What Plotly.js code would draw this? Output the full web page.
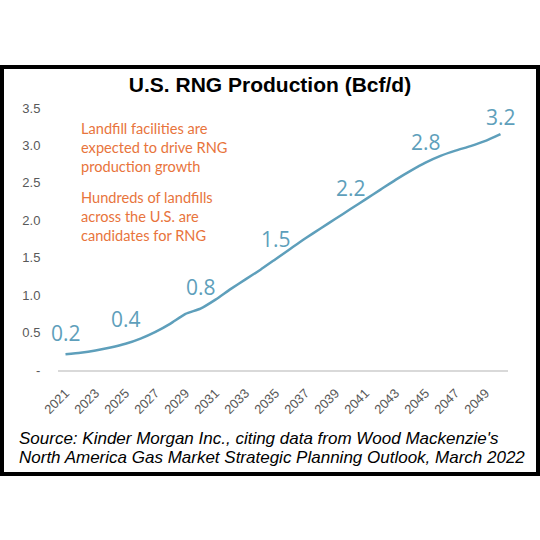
<!DOCTYPE html>
<html>
<head>
<meta charset="utf-8">
<script src="https://cdn.plot.ly/plotly-3.0.1.min.js"></script>
<style>
  html, body { margin: 0; padding: 0; background: #fff; }
  #wrap { position: relative; width: 540px; height: 540px; }
  #chart { position: absolute; left: 0; top: 0; width: 540px; height: 540px; }
  #frame { position: absolute; left: 0; top: 65px; width: 540px; height: 411px;
           border: 4px solid #000; box-sizing: border-box; pointer-events: none; }
</style>
</head>
<body>
<div id="wrap">
  <div id="chart"></div>
  <div id="frame"></div>
</div>
<script>
// Data
const years = [2021,2022,2023,2024,2025,2026,2027,2028,2029,2030,
               2031,2032,2033,2034,2035,2036,2037,2038,2039,2040,
               2041,2042,2043,2044,2045,2046,2047,2048,2049,2050];
const production = [0.21,0.23,0.26,0.30,0.35,0.42,0.51,0.62,0.75,0.82,
                    0.94,1.08,1.21,1.34,1.48,1.62,1.76,1.89,2.02,2.15,
                    2.28,2.41,2.54,2.66,2.77,2.86,2.93,2.99,3.06,3.15];
const labelYears = [2021,2025,2030,2035,2040,2045,2050];
const labelTexts = ["0.2","0.4","0.8","1.5","2.2","2.8","3.2"];
const xTickVals = [2021,2023,2025,2027,2029,2031,2033,2035,2037,2039,2041,2043,2045,2047,2049];
const yTickVals = [0,0.5,1.0,1.5,2.0,2.5,3.0,3.5];
const yTickText = ["-","0.5","1.0","1.5","2.0","2.5","3.0","3.5"];
const titleText = "U.S. RNG Production (Bcf/d)";
const noteA = ["Landfill facilities are","expected to drive RNG","production growth"];
const noteB = ["Hundreds of landfills","across the U.S. are","candidates for RNG"];
const sourceLines = ["Source: Kinder Morgan Inc., citing data from Wood Mackenzie's",
                     "North America Gas Market Strategic Planning Outlook, March 2022"];

const BLUE = "#5e9fbb";
const ORANGE = "#e8743c";
const SANS = "Open Sans, Noto Sans, sans-serif";
const NOTE = "Lato, Open Sans, sans-serif";
const ARIAL = "Liberation Sans, Arial, sans-serif";

// plot area in pixels: x 58..508, y 108..370
const L = 58, R = 508, T = 108, B = 370;
const px = x => (x - L) / (R - L);
const py = y => (B - y) / (B - T);

const labelShift = [5, 9, 6, 4, 5, 5, 1];
const annotations = labelYears.map((yr, i) => ({
  x: yr, y: production[years.indexOf(yr)], xref: "x", yref: "y",
  text: labelTexts[i], showarrow: false, yanchor: "bottom", yshift: labelShift[i],
  font: {family: SANS, size: 21, color: BLUE}
}));

annotations.push({
  xref: "paper", yref: "paper", x: px(79), y: py(118), xanchor: "left", yanchor: "top",
  align: "left", showarrow: false, text: noteA.join("<br>"),
  font: {family: NOTE, size: 14.6, color: ORANGE}
});
annotations.push({
  xref: "paper", yref: "paper", x: px(79), y: py(187), xanchor: "left", yanchor: "top",
  align: "left", showarrow: false, text: noteB.join("<br>"),
  font: {family: NOTE, size: 14.6, color: ORANGE}
});
sourceLines.forEach((s, i) => annotations.push({
  xref: "paper", yref: "paper", x: px(17), y: py(438 + 19 * i), xanchor: "left", yanchor: "middle",
  align: "left", showarrow: false, text: "<i>" + s + "</i>",
  font: {family: ARIAL, size: 17, color: "#000"}
}));

const trace = {
  x: years, y: production, type: "scatter", mode: "lines",
  line: {color: BLUE, width: 2.5, shape: "spline", smoothing: 0.5},
  hoverinfo: "skip"
};

const layout = {
  width: 540, height: 540,
  margin: {l: L, r: 540 - R, t: T, b: 540 - B, pad: 0},
  paper_bgcolor: "#fff", plot_bgcolor: "rgba(0,0,0,0)",
  showlegend: false,
  title: {text: "<b>" + titleText + "</b>", xref: "container", x: 0.5, xanchor: "center",
          yref: "container", y: 1 - 85/540, yanchor: "middle",
          font: {family: ARIAL, size: 21, color: "#000"}},
  xaxis: {
    type: "linear", range: [2020.5, 2050.5], tickmode: "array", tickvals: xTickVals,
    tickangle: -45, showgrid: false, zeroline: false,
    showline: true, linecolor: "#d9d9d9", linewidth: 1.5,
    ticks: "outside", ticklen: 9, tickcolor: "rgba(0,0,0,0)",
    tickfont: {family: ARIAL, size: 13, color: "#595959"}, fixedrange: true
  },
  yaxis: {
    range: [0, 3.5], tickmode: "array", tickvals: yTickVals, ticktext: yTickText,
    showgrid: false, zeroline: false, showline: false,
    ticks: "outside", ticklen: 14, tickcolor: "rgba(0,0,0,0)",
    tickfont: {family: ARIAL, size: 13, color: "#595959"}, fixedrange: true
  },
  annotations: annotations
};

Plotly.newPlot("chart", [trace], layout, {displayModeBar: false, staticPlot: true});
</script>
</body>
</html>
